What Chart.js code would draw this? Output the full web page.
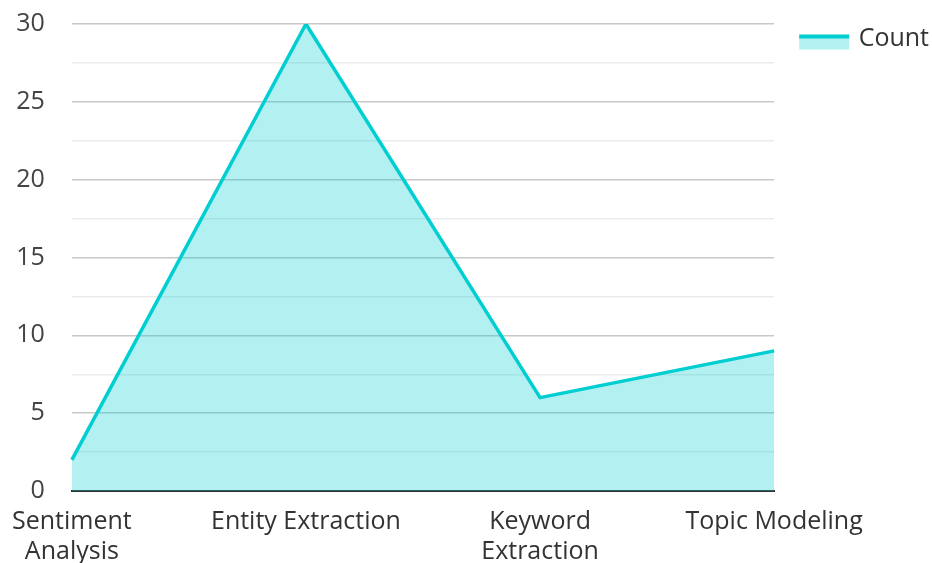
<!DOCTYPE html>
<html>
<head>
<meta charset="utf-8">
<script src="https://cdn.jsdelivr.net/npm/chart.js@4"></script>
<style>
  html, body { margin: 0; padding: 0; background: #fff; }
  #wrap { width: 932px; height: 563px; }
</style>
</head>
<body>
<div id="wrap"><canvas id="grafico"></canvas></div>
<script>
// dados do gráfico
const categorias = [['Sentiment', 'Analysis'], 'Entity Extraction', ['Keyword', 'Extraction'], 'Topic Modeling'];
const contagem = [2, 30, 6, 9];
const rotuloSerie = 'Count';

const corLinha = '#00CED1';
const corArea = 'rgba(0, 206, 209, 0.3)';

// caixinha da legenda: linha em cima, área embaixo
// (a imagem é maior que a caixa, p/ deixar o texto mais perto do ícone)
function criarIconeLegenda() {
    const c = document.createElement('canvas');
    c.width = 80;
    c.height = 24;
    const g = c.getContext('2d');
    g.fillStyle = corArea;
    g.fillRect(28, 8, 50, 15);
    g.fillStyle = corLinha;
    g.fillRect(28, 8, 50, 4);
    return c;
}

Chart.defaults.font.family = '"Open Sans", "Noto Sans", sans-serif';
Chart.defaults.font.size = 25;
Chart.defaults.color = '#444';

new Chart(document.getElementById('grafico'), {
    type: 'line',
    data: {
        labels: categorias,
        datasets: [{
            label: rotuloSerie,
            data: contagem,
            borderColor: corLinha,
            backgroundColor: corArea,
            borderWidth: 3.5,
            fill: 'origin',
            tension: 0,
            pointRadius: 0,
            pointHoverRadius: 0
        }]
    },
    options: {
        responsive: true,
        maintainAspectRatio: false,
        animation: false,
        layout: { padding: { top: 0, right: -7, left: -13, bottom: -16 } },
        plugins: {
            legend: {
                position: 'right',
                align: 'start',
                fullSize: false,
                labels: {
                    usePointStyle: true,
                    pointStyle: criarIconeLegenda(),
                    pointStyleWidth: 70,
                    boxHeight: 16,
                    color: '#333',
                    padding: 2,
                    font: { size: 25 }
                }
            },
            tooltip: { enabled: false }
        },
        scales: {
            x: {
                offset: false,
                grid: { display: false, drawTicks: true, tickLength: 4 },
                border: { display: true, color: '#333', width: 2 },
                ticks: {
                    color: '#333',
                    padding: 12,
                    maxRotation: 0,
                    autoSkip: false,
                    font: { size: 25, lineHeight: 1.2 }
                }
            },
            y: {
                min: 0,
                max: 30,
                grid: {
                    drawTicks: true,
                    tickLength: 18,
                    tickColor: 'rgba(0,0,0,0)',
                    lineWidth: 1.5,
                    color: ctx => (ctx.tick && ctx.tick.value % 5 !== 0) ? '#ebebeb' : '#c8c8c8'
                },
                border: { display: false },
                ticks: {
                    stepSize: 2.5,
                    padding: 9,
                    color: '#444',
                    font: { size: 25 },
                    callback: v => (v % 5 === 0 ? v : '')
                }
            }
        }
    }
});
</script>
</body>
</html>
